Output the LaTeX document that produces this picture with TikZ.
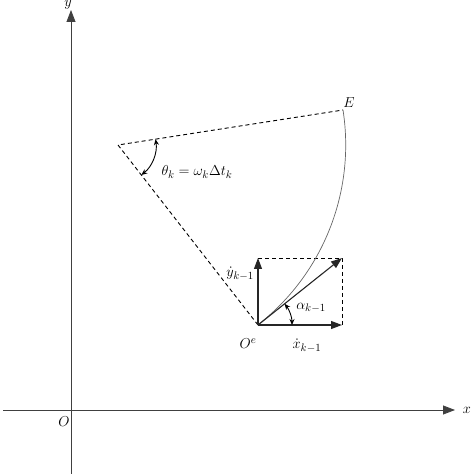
\documentclass[tikz,border=0pt]{standalone}
\usepackage{fontspec}
\setmainfont{Liberation Serif}
\usetikzlibrary{arrows.meta,calc}
\begin{document}
\begin{tikzpicture}[x=1pt,y=1pt,
  axis/.style={draw=black!75,line width=0.8pt,-{Triangle[length=12pt,width=9pt]}},
  vec/.style={draw=black!85,line width=1.1pt,-{Triangle[length=11pt,width=8pt]}},
  dash line/.style={draw=black,line width=0.9pt,dash pattern=on 4pt off 3pt},
  angarrow/.style={draw=black,line width=0.9pt,{Stealth[length=6pt,width=5pt]}-{Stealth[length=6pt,width=5pt]}},
  lbl/.style={inner sep=0pt,font=\fontsize{15}{17}\selectfont}]
\useasboundingbox (0,0) rectangle (474,474);
% axes
\coordinate (xs) at (3,64);
\coordinate (xe) at (455,64);
\coordinate (ys) at (71,0);
\coordinate (ye) at (71,464);
\draw[axis] (xs) -- (xe);
\draw[axis] (ys) -- (ye);
\node[lbl] (xl) at (467,64) {$x$};
\node[lbl,anchor=north] (yl) at (68,474) {$y$};
\node[lbl] (ol) at (64,52) {$O$};
% main points
\coordinate (Oe) at (258,149);
\coordinate (A) at (118,329);
\coordinate (E) at (343,364);
\coordinate (Vy) at (258,216);
\coordinate (Vx) at (342,149);
\coordinate (V) at (342,216);
% dashed triangle and rectangle
\draw[dash line] (Oe) -- (A) -- (E);
\draw[dash line] (Vy) -- (V) -- (Vx);
% arc centred at A
\draw[black!60,line width=0.7pt] (E) arc[start angle=8.84,end angle=-52.1,radius=228];
% vectors
\draw[vec] (Oe) -- (Vy);
\draw[vec] (Oe) -- (Vx);
\draw[vec] (Oe) -- (V);
% angles
\draw[angarrow] ($(A)+(-52.1:38)$) arc[start angle=-52.1,end angle=8.84,radius=38];
\draw[angarrow] ($(Oe)+(34,0)$) arc[start angle=0,end angle=38.6,radius=34];
% labels
\node[lbl] (El) at (349,371) {$E$};
\node[lbl] (th) at (197,302) {$\theta_k=\omega_k\Delta t_k$};
\node[lbl] (al) at (311,166) {$\alpha_{k-1}$};
\node[lbl,anchor=east] (yd) at (254,200) {$\dot{y}_{k-1}$};
\node[lbl] (xd) at (307,128) {$\dot{x}_{k-1}$};
\node[lbl] (oe) at (248,130) {$O^e$};
\end{tikzpicture}
\end{document}
